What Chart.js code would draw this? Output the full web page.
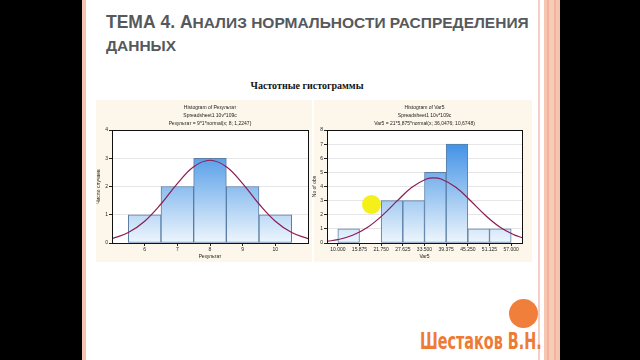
<!DOCTYPE html>
<html lang="ru">
<head>
<meta charset="UTF-8">
<title>Частотные гистограммы</title>
<script src="https://cdn.jsdelivr.net/npm/chart.js@4.4.1/dist/chart.umd.min.js"></script>
<style>
  body { margin: 0; width: 640px; height: 360px; background: #000; overflow: hidden; position: relative; font-family: "Liberation Sans", Arial, sans-serif; }
  .slide { position: absolute; left: 86px; top: 0; width: 459px; height: 360px; background: #fff; }
  .edgeL { position: absolute; left: 82px; top: 0; width: 4px; height: 360px; background: #f3c5b8; }
  .edgeR1 { position: absolute; left: 538px; top: 0; width: 2px; height: 360px; background: #f5cfc6; }
  .edgeR2 { position: absolute; left: 544px; top: 0; width: 16px; height: 360px;
    background: linear-gradient(to right, #f6c6b3 0 3px, #f0b39c 3px 5px, #f8cbb8 5px 10px, #f1b49c 10px 12px, #f7c4af 12px 16px); }
  .title { position: absolute; left: 106px; top: 11px; color: #56595c; font-weight: bold; line-height: 23px; white-space: nowrap; }
  .big { font-size: 17.5px; }
  .sc { font-size: 15.5px; }
  .sub { position: absolute; left: 86px; width: 442px; top: 80px; text-align: center; font-family: "Liberation Serif", serif; font-weight: bold; font-size: 10px; color: #111; }
  .panel { position: absolute; top: 100px; height: 162px; background: #fcf7ea; }
  canvas { position: absolute; }
  .dot { position: absolute; left: 362px; top: 195px; width: 19px; height: 19px; border-radius: 50%; background: #f6f01a; }
  .sun { position: absolute; left: 509px; top: 299px; width: 29px; height: 29px; border-radius: 50%; background: #f07f3c; }
  .author { position: absolute; left: 420px; top: 328px; font-family: "DejaVu Sans Condensed", "DejaVu Sans", sans-serif; font-weight: bold; font-size: 17px; color: #ee7b33; transform: scale(0.94, 1.3); transform-origin: left top; white-space: nowrap; }
</style>
</head>
<body>
<div class="edgeL"></div>
<div class="slide"></div>
<div class="edgeR1"></div>
<div class="edgeR2"></div>

<div class="title"><span class="big">ТЕМА 4. А</span><span class="sc">НАЛИЗ НОРМАЛЬНОСТИ РАСПРЕДЕЛЕНИЯ</span><br><span class="sc">ДАННЫХ</span></div>
<div class="sub">Частотные гистограммы</div>

<div class="panel" style="left:96px;width:216px"></div>
<div class="panel" style="left:314px;width:218px"></div>
<canvas id="chart1" width="216" height="162" style="left:96px;top:100px"></canvas>
<canvas id="chart2" width="220" height="162" style="left:312px;top:100px"></canvas>

<div class="dot"></div>
<div class="sun"></div>
<div class="author">Шестаков В.Н.</div>

<script>
// left histogram: Результат
const resBins = [6, 7, 8, 9, 10];
const resCounts = [1, 2, 3, 2, 1];
const resTicks = [6, 7, 8, 9, 10];
const resCurveX = [5, 5.5, 6, 6.5, 7, 7.5, 8, 8.5, 9, 9.5, 10, 10.5, 11];
const resCurveY = [0.15, 0.37, 0.77, 1.38, 2.1, 2.7, 2.93, 2.7, 2.1, 1.38, 0.77, 0.37, 0.15];
const resTitle = ['Histogram of Результат', 'Spreadsheet1 10v*109c', 'Результат = 9*1*normal(x; 8; 1,2247)'];

// right histogram: Var5
const varBins = [12.9375, 18.8125, 24.6875, 30.5625, 36.4375, 42.3125, 48.1875, 54.0625];
const varCounts = [1, 0, 3, 3, 5, 7, 1, 1];
const varTicks = [10, 15.875, 21.75, 27.625, 33.5, 39.375, 45.25, 51.125, 57];
const varCurveX = [7.06, 10, 14, 18, 22, 26, 30, 34, 36, 38, 42, 46, 50, 54, 58, 59.94];
const varCurveY = [0.12, 0.24, 0.55, 1.1, 1.94, 2.96, 3.93, 4.53, 4.61, 4.53, 3.95, 2.99, 1.96, 1.12, 0.56, 0.38];
const varTitle = ['Histogram of Var5', 'Spreadsheet1 10v*109c', 'Var5 = 21*5,875*normal(x; 36,0476; 10,6748)'];

const tiny = { family: 'Liberation Sans, Arial, sans-serif', size: 5 };

const plotFrame = {
  id: 'plotFrame',
  beforeDraw(chart) {
    const a = chart.chartArea, c = chart.ctx;
    c.save();
    c.fillStyle = '#fff';
    c.fillRect(a.left, a.top, a.right - a.left, a.bottom - a.top);
    c.restore();
  },
  afterDraw(chart) {
    const a = chart.chartArea, c = chart.ctx;
    c.save();
    c.strokeStyle = '#111';
    c.lineWidth = 1;
    c.strokeRect(Math.round(a.left) + 0.5, Math.round(a.top) + 0.5, Math.round(a.right - a.left), Math.round(a.bottom - a.top));
    const lines = chart.options.plugins.plotFrame.lines;
    c.fillStyle = '#222';
    c.font = '5px Liberation Sans, Arial, sans-serif';
    c.textAlign = 'center';
    c.textBaseline = 'middle';
    const cx = (a.left + a.right) / 2;
    lines.forEach((t, i) => c.fillText(t, cx, 8 + i * 8));
    c.restore();
  }
};

function barFill(context) {
  const a = context.chart.chartArea;
  if (!a) return '#7db8ee';
  const g = context.chart.ctx.createLinearGradient(0, a.top, 0, a.bottom);
  g.addColorStop(0, '#2a84e2');
  g.addColorStop(1, '#eef6fd');
  return g;
}

function makeChart(id, bins, counts, ticks, cx, cy, title, xMin, xMax, yMax, yWidth, padRight, xLabel, yLabel, fmt) {
  return new Chart(document.getElementById(id), {
    data: {
      datasets: [{
        type: 'line',
        data: cx.map((x, i) => ({ x: x, y: cy[i] })),
        borderColor: '#8c1d55',
        borderWidth: 1.2,
        pointRadius: 0,
        tension: 0.4,
        order: 0
      }, {
        type: 'bar',
        data: bins.map((x, i) => ({ x: x, y: counts[i] })),
        backgroundColor: barFill,
        borderColor: '#5a7ea6',
        borderWidth: ctx => (ctx.raw && ctx.raw.y > 0 ? 1 : 0),
        borderSkipped: false,
        barPercentage: 1,
        categoryPercentage: 1,
        order: 1
      }]
    },
    options: {
      responsive: false,
      animation: false,
      layout: { padding: { top: 30, right: padRight, left: 0, bottom: 0 } },
      plugins: {
        legend: { display: false },
        tooltip: { enabled: false },
        plotFrame: { lines: title }
      },
      scales: {
        x: {
          type: 'linear',
          min: xMin,
          max: xMax,
          offset: false,
          afterBuildTicks: s => { s.ticks = ticks.map(v => ({ value: v })); },
          afterFit: s => { s.height = 19; },
          ticks: { font: tiny, color: '#222', padding: 1, maxRotation: 0, autoSkip: false, callback: v => fmt(v) },
          grid: { drawOnChartArea: false, offset: false, tickLength: 3, color: '#222' },
          border: { color: '#111' },
          title: { display: true, text: xLabel, font: tiny, color: '#222', padding: { top: 0, bottom: 2 } }
        },
        y: {
          min: 0,
          max: yMax,
          afterFit: s => { s.width = yWidth; },
          ticks: { stepSize: 1, font: tiny, color: '#222', padding: 1 },
          grid: { color: '#e6e6e6', tickColor: '#222', tickLength: 3 },
          border: { color: '#111' },
          title: { display: true, text: yLabel, font: tiny, color: '#222', padding: 0 }
        }
      }
    },
    plugins: [plotFrame]
  });
}

makeChart('chart1', resBins, resCounts, resTicks, resCurveX, resCurveY, resTitle,
  5, 11, 4, 16, 4, 'Результат', 'Число случаев', v => String(v));
makeChart('chart2', varBins, varCounts, varTicks, varCurveX, varCurveY, varTitle,
  7.0625, 59.9375, 8, 15, 10, 'Var5', 'No of obs', v => v.toFixed(3));
</script>
</body>
</html>
